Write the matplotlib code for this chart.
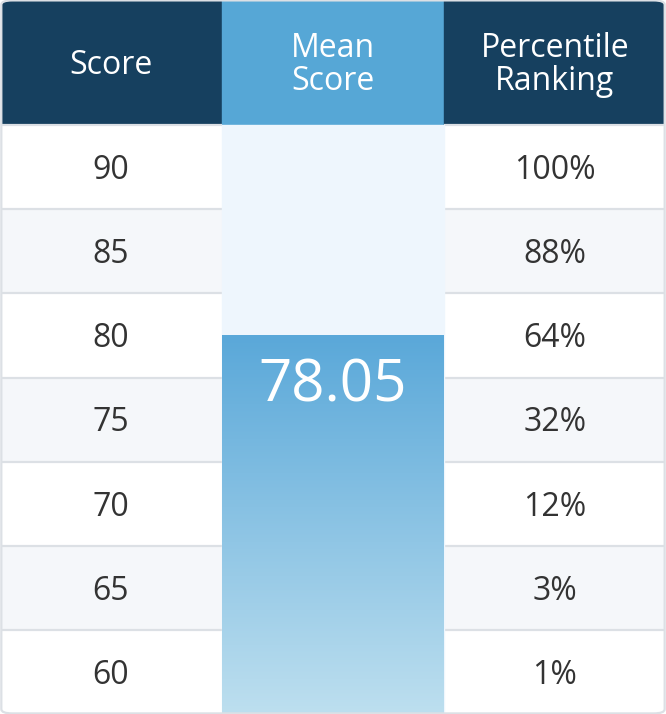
import numpy as np
import matplotlib
matplotlib.use("Agg")
import matplotlib.pyplot as plt
from matplotlib.patches import Rectangle, FancyBboxPatch
from matplotlib.colors import LinearSegmentedColormap

plt.rcParams['font.family'] = ['Open Sans', 'DejaVu Sans']

# ---- data ----
headers = ["Score", "Mean\nScore", "Percentile\nRanking"]
scores = [90, 85, 80, 75, 70, 65, 60]
percentiles = ["100%", "88%", "64%", "32%", "12%", "3%", "1%"]
mean_score = 78.05

# ---- style ----
DARK = "#16405F"
MID_HEAD = "#56A7D6"
LIGHT_BG = "#EEF6FD"
GRAD_TOP = "#5AA8D9"
GRAD_BOT = "#BDDFEF"
ROW_ALT = "#F5F7FA"
LINE = "#DCE0E5"
TXT = "#333333"
FW = "normal"

W, H = 666, 714
fig = plt.figure(figsize=(W / 100, H / 100), dpi=100)
ax = fig.add_axes([0, 0, 1, 1])
n = len(scores)
header_h = 125 / 84.0
ax.set_xlim(0, 3)
ax.set_ylim(n, -header_h)
ax.axis("off")

clip = FancyBboxPatch((0.006, -header_h + 0.005), 3 - 0.012, n + header_h - 0.012,
                      boxstyle="round,pad=0,rounding_size=0.05",
                      transform=ax.transData, facecolor="none", edgecolor="none")
ax.add_patch(clip)

patches = []
# header
for c in range(3):
    col = MID_HEAD if c == 1 else DARK
    patches.append(ax.add_patch(Rectangle((c, -header_h), 1, header_h, color=col, zorder=1)))
    ax.text(c + 0.5, -header_h / 2 + 0.03, headers[c], ha="center", va="center",
            color="white", fontsize=23, linespacing=1.02, zorder=5, fontweight=FW)

# rows
for i, (s, p) in enumerate(zip(scores, percentiles)):
    bg = ROW_ALT if i % 2 == 1 else "white"
    for c in (0, 2):
        patches.append(ax.add_patch(Rectangle((c, i), 1, 1, color=bg, zorder=1)))
    ax.text(0.5, i + 0.54, str(s), ha="center", va="center", color=TXT, fontsize=23,
            zorder=5, fontweight=FW)
    ax.text(2.5, i + 0.54, p, ha="center", va="center", color=TXT, fontsize=23,
            zorder=5, fontweight=FW)
    for c in (0, 2):
        ln, = ax.plot([c, c + 1], [i, i], color=LINE, lw=1.6, zorder=2, solid_capstyle="butt")
        patches.append(ln)

# middle column background
patches.append(ax.add_patch(Rectangle((1, 0), 1, n, color=LIGHT_BG, zorder=3)))

# bar: starts at the row of the smallest listed score >= mean
bracket = min(s for s in scores if s >= mean_score)
bar_top = scores.index(bracket) + 0.5
cmap = LinearSegmentedColormap.from_list("g", [GRAD_TOP, GRAD_BOT])
grad = np.linspace(0, 1, 256).reshape(-1, 1)
im = ax.imshow(grad, cmap=cmap, extent=[1, 2, n, bar_top], origin="upper",
               aspect="auto", zorder=4, interpolation="bilinear")
patches.append(im)
ax.text(1.5, bar_top + 0.6, f"{mean_score:.2f}", ha="center", va="center",
        color="white", fontsize=42, zorder=6, fontweight=FW)
ax.set_ylim(n, -header_h)
ax.set_xlim(0, 3)

for p in patches:
    p.set_clip_path(clip)

# outer border
border = FancyBboxPatch((0.006, -header_h + 0.005), 3 - 0.012, n + header_h - 0.012,
                        boxstyle="round,pad=0,rounding_size=0.05",
                        transform=ax.transData, facecolor="none", edgecolor=LINE,
                        lw=1.6, zorder=7)
ax.add_patch(border)

fig.savefig("out.png", dpi=100)
